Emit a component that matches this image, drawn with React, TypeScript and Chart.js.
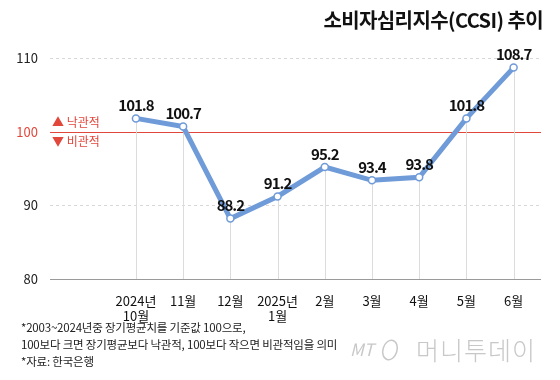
import React, { useEffect, useRef } from "react";
import { Chart, registerables } from "chart.js";

Chart.register(...registerables);

const categories: (string | string[])[] = [
  ["2024년", "10월"],
  "11월",
  "12월",
  ["2025년", "1월"],
  "2월",
  "3월",
  "4월",
  "5월",
  "6월",
];
const ccsiValues = [101.8, 100.7, 88.2, 91.2, 95.2, 93.4, 93.8, 101.8, 108.7];
const yTicks = [80, 90, 100, 110];
const titleText = "소비자심리지수(CCSI) 추이";
const footnotes = [
  "*2003~2024년중 장기평균치를 기준값 100으로,",
  "100보다 크면 장기평균보다 낙관적, 100보다 작으면 비관적임을 의미",
  "*자료: 한국은행",
];
const upLabel = "▲ 낙관적";
const downLabel = "▼ 비관적";

const FONT = '"Noto Sans CJK KR", "Noto Sans", sans-serif';
const RED = "#e2473c";
const BLUE = "#6f9bd8";

export default function App() {
  const ref = useRef<HTMLCanvasElement | null>(null);

  useEffect(() => {
    if (!ref.current) return;
    const decor = {
      id: "decor",
      beforeDatasetsDraw(chart: any) {
        const { ctx, chartArea } = chart;
        const y = chart.scales.y;
        const meta = chart.getDatasetMeta(0);
        ctx.save();
        yTicks.forEach((v) => {
          const py = Math.round(y.getPixelForValue(v)) + 0.5;
          ctx.beginPath();
          if (v === 100) {
            ctx.strokeStyle = RED;
            ctx.setLineDash([]);
          } else if (v === 80) {
            ctx.strokeStyle = "#9a9a9a";
            ctx.setLineDash([]);
          } else {
            ctx.strokeStyle = "#d8d8d8";
            ctx.setLineDash([3, 3]);
          }
          ctx.lineWidth = 1;
          ctx.moveTo(chartArea.left, py);
          ctx.lineTo(chartArea.right, py);
          ctx.stroke();
        });
        ctx.setLineDash([]);
        ctx.strokeStyle = "#dcdcdc";
        meta.data.forEach((pt: any) => {
          const px = Math.round(pt.x) + 0.5;
          ctx.beginPath();
          ctx.moveTo(px, pt.y);
          ctx.lineTo(px, y.getPixelForValue(80));
          ctx.stroke();
        });
        const p100 = y.getPixelForValue(100);
        ctx.fillStyle = RED;
        ctx.font = `12px ${FONT}`;
        ctx.textAlign = "left";
        ctx.textBaseline = "middle";
        ctx.fillText(upLabel, chartArea.left + 2, p100 - 9);
        ctx.fillText(downLabel, chartArea.left + 2, p100 + 10);
        ctx.restore();
      },
      afterDatasetsDraw(chart: any) {
        const { ctx } = chart;
        const meta = chart.getDatasetMeta(0);
        ctx.save();
        ctx.fillStyle = "#111";
        ctx.font = `bold 15px ${FONT}`;
        (ctx as any).letterSpacing = "-1px";
        ctx.textAlign = "center";
        ctx.textBaseline = "middle";
        meta.data.forEach((pt: any, i: number) => {
          ctx.fillText(ccsiValues[i].toFixed(1), pt.x, pt.y - 13);
        });
        ctx.font = `bold 20px ${FONT}`;
        (ctx as any).letterSpacing = "-0.6px";
        ctx.textAlign = "right";
        ctx.fillText(titleText, 543, 20);
        ctx.font = `11.5px ${FONT}`;
        ctx.textAlign = "left";
        ctx.fillStyle = "#222";
        (ctx as any).letterSpacing = "-0.2px";
        footnotes.forEach((t, i) => ctx.fillText(t, 21, 328 + i * 17));
        (ctx as any).letterSpacing = "0px";
        ctx.fillStyle = "#c8c8c8";
        ctx.font = `italic 17px ${FONT}`;
        ctx.fillText("MT", 350, 350);
        ctx.beginPath();
        ctx.strokeStyle = "#c8c8c8";
        ctx.lineWidth = 1.5;
        ctx.ellipse(390, 350, 7, 10, 0.3, 0, Math.PI * 2);
        ctx.stroke();
        ctx.font = `300 25px ${FONT}`;
        (ctx as any).letterSpacing = "1px";
        ctx.fillText("머니투데이", 416, 350);
        ctx.restore();
      },
    };

    const chart = new Chart(ref.current, {
      type: "line",
      data: {
        datasets: [
          {
            data: ccsiValues.map((v, i) => ({ x: i, y: v })),
            borderColor: BLUE,
            borderWidth: 5,
            pointRadius: 3.5,
            pointBorderWidth: 1.5,
            pointBackgroundColor: "#ffffff",
            pointBorderColor: BLUE,
            tension: 0,
          },
        ],
      },
      options: {
        responsive: false,
        animation: false,
        devicePixelRatio: 1,
        layout: { padding: { top: 58, left: 0, right: 19, bottom: 0 } },
        plugins: { legend: { display: false }, tooltip: { enabled: false } },
        scales: {
          x: {
            type: "linear",
            min: -1.82,
            max: 8.58,
            grid: { display: false },
            border: { display: false },
            afterBuildTicks: (scale: any) => {
              scale.ticks = categories.map((_, i) => ({ value: i }));
            },
            afterFit: (scale: any) => {
              scale.height = 101;
            },
            ticks: {
              autoSkip: false,
              maxRotation: 0,
              padding: 6,
              color: "#111",
              font: { family: FONT, size: 13, lineHeight: 1.2 },
              callback: (v: any) => categories[Math.round(v)] as any,
            },
          },
          y: {
            min: 80,
            max: 110,
            grid: { display: false, drawTicks: false },
            border: { display: false },
            afterFit: (scale: any) => {
              scale.width = 50;
            },
            ticks: {
              stepSize: 10,
              padding: 12,
              color: (c: any) => (c.tick && c.tick.value === 100 ? RED : "#222"),
              font: { family: FONT, size: 13 },
            },
          },
        },
      },
      plugins: [decor],
    } as any);
    return () => chart.destroy();
  }, []);

  return (
    <div style={{ position: "absolute", left: 0, top: 0, width: 560, height: 380, background: "#fff" }}>
      <canvas ref={ref} width={560} height={380} />
    </div>
  );
}
